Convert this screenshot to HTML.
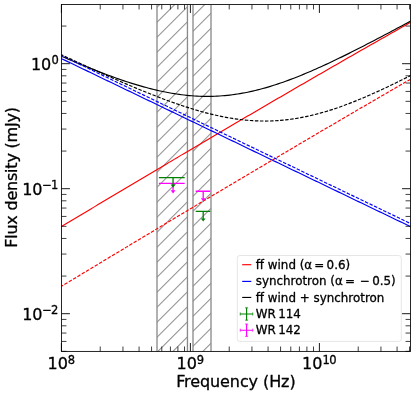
<!DOCTYPE html>
<html><head><meta charset="utf-8"><title>Flux density vs Frequency</title>
<style>html,body{margin:0;padding:0;background:#fff}svg{display:block}</style></head>
<body>
<svg width="415" height="395" viewBox="0 0 415 395" font-family="'DejaVu Sans', 'Liberation Sans', sans-serif" style="font-variant-ligatures:none;font-feature-settings:'liga' 0,'clig' 0">
<rect width="415" height="395" fill="#fff"/>
<style>text{stroke:#000;stroke-width:0.3px;stroke-linejoin:round}</style>
<defs><clipPath id="ax"><rect x="61.55" y="4.55" width="348.9" height="346.84999999999997"/></clipPath>
<clipPath id="b0"><rect x="157.0" y="4.55" width="30.44999999999999" height="346.84999999999997"/></clipPath>
<clipPath id="b1"><rect x="193.0" y="4.55" width="18.0" height="346.84999999999997"/></clipPath>
</defs>
<g clip-path="url(#b0)" stroke="#949494" stroke-width="1.1" fill="none">
<path d="M155.00 -20.70L189.45 -55.15M155.00 -5.70L189.45 -40.15M155.00 9.30L189.45 -25.15M155.00 24.30L189.45 -10.15M155.00 39.30L189.45 4.85M155.00 54.30L189.45 19.85M155.00 69.30L189.45 34.85M155.00 84.30L189.45 49.85M155.00 99.30L189.45 64.85M155.00 114.30L189.45 79.85M155.00 129.30L189.45 94.85M155.00 144.30L189.45 109.85M155.00 159.30L189.45 124.85M155.00 174.30L189.45 139.85M155.00 189.30L189.45 154.85M155.00 204.30L189.45 169.85M155.00 219.30L189.45 184.85M155.00 234.30L189.45 199.85M155.00 249.30L189.45 214.85M155.00 264.30L189.45 229.85M155.00 279.30L189.45 244.85M155.00 294.30L189.45 259.85M155.00 309.30L189.45 274.85M155.00 324.30L189.45 289.85M155.00 339.30L189.45 304.85M155.00 354.30L189.45 319.85M155.00 369.30L189.45 334.85M155.00 384.30L189.45 349.85M155.00 399.30L189.45 364.85"/></g>
<g clip-path="url(#b1)" stroke="#949494" stroke-width="1.1" fill="none">
<path d="M191.00 -11.70L213.00 -33.70M191.00 3.30L213.00 -18.70M191.00 18.30L213.00 -3.70M191.00 33.30L213.00 11.30M191.00 48.30L213.00 26.30M191.00 63.30L213.00 41.30M191.00 78.30L213.00 56.30M191.00 93.30L213.00 71.30M191.00 108.30L213.00 86.30M191.00 123.30L213.00 101.30M191.00 138.30L213.00 116.30M191.00 153.30L213.00 131.30M191.00 168.30L213.00 146.30M191.00 183.30L213.00 161.30M191.00 198.30L213.00 176.30M191.00 213.30L213.00 191.30M191.00 228.30L213.00 206.30M191.00 243.30L213.00 221.30M191.00 258.30L213.00 236.30M191.00 273.30L213.00 251.30M191.00 288.30L213.00 266.30M191.00 303.30L213.00 281.30M191.00 318.30L213.00 296.30M191.00 333.30L213.00 311.30M191.00 348.30L213.00 326.30M191.00 363.30L213.00 341.30M191.00 378.30L213.00 356.30M191.00 393.30L213.00 371.30"/></g>
<g clip-path="url(#ax)" fill="none">
<path d="M157.0 4.55V351.4M187.45 4.55V351.4" stroke="#8a8a8a" stroke-width="1.33"/>
<path d="M193.0 4.55V351.4M211.0 4.55V351.4" stroke="#8a8a8a" stroke-width="1.33"/>
</g>
<g clip-path="url(#ax)">
<polyline points="60.11,227.36 62.64,225.84 65.18,224.32 67.71,222.80 70.24,221.28 72.78,219.76 75.31,218.24 77.85,216.73 80.38,215.21 82.91,213.69 85.45,212.18 87.98,210.66 90.51,209.15 93.05,207.63 95.58,206.12 98.11,204.60 100.65,203.09 103.18,201.58 105.71,200.06 108.25,198.55 110.78,197.04 113.32,195.53 115.85,194.01 118.38,192.50 120.92,190.99 123.45,189.48 125.98,187.97 128.52,186.46 131.05,184.96 133.58,183.45 136.12,181.94 138.65,180.43 141.19,178.93 143.72,177.42 146.25,175.91 148.79,174.41 151.32,172.90 153.85,171.40 156.39,169.90 158.92,168.39 161.45,166.89 163.99,165.39 166.52,163.89 169.05,162.38 171.59,160.88 174.12,159.38 176.66,157.88 179.19,156.38 181.72,154.88 184.26,153.39 186.79,151.89 189.32,150.39 191.86,148.89 194.39,147.40 196.92,145.90 199.46,144.41 201.99,142.91 204.53,141.42 207.06,139.93 209.59,138.43 212.13,136.94 214.66,135.45 217.19,133.96 219.73,132.47 222.26,130.98 224.79,129.49 227.33,128.00 229.86,126.51 232.39,125.02 234.93,123.54 237.46,122.05 240.00,120.57 242.53,119.08 245.06,117.60 247.60,116.11 250.13,114.63 252.66,113.15 255.20,111.67 257.73,110.19 260.26,108.70 262.80,107.22 265.33,105.75 267.86,104.27 270.40,102.79 272.93,101.31 275.47,99.84 278.00,98.36 280.53,96.89 283.07,95.41 285.60,93.94 288.13,92.47 290.67,90.99 293.20,89.52 295.73,88.05 298.27,86.58 300.80,85.12 303.34,83.65 305.87,82.18 308.40,80.71 310.94,79.25 313.47,77.78 316.00,76.32 318.54,74.86 321.07,73.39 323.60,71.93 326.14,70.47 328.67,69.01 331.20,67.55 333.74,66.10 336.27,64.64 338.81,63.18 341.34,61.73 343.87,60.27 346.41,58.82 348.94,57.37 351.47,55.92 354.01,54.46 356.54,53.01 359.07,51.57 361.61,50.12 364.14,48.67 366.68,47.23 369.21,45.78 371.74,44.34 374.28,42.89 376.81,41.45 379.34,40.01 381.88,38.57 384.41,37.13 386.94,35.70 389.48,34.26 392.01,32.83 394.54,31.39 397.08,29.96 399.61,28.53 402.15,27.10 404.68,25.67 407.21,24.24 409.75,22.81 412.28,21.39" fill="none" stroke="#ff0000" stroke-width="1.15" stroke-linejoin="round"/>
<polyline points="60.11,57.95 62.64,59.17 65.18,60.39 67.71,61.61 70.24,62.82 72.78,64.04 75.31,65.26 77.85,66.48 80.38,67.70 82.91,68.92 85.45,70.14 87.98,71.36 90.51,72.58 93.05,73.80 95.58,75.02 98.11,76.24 100.65,77.46 103.18,78.68 105.71,79.90 108.25,81.12 110.78,82.34 113.32,83.56 115.85,84.78 118.38,86.00 120.92,87.22 123.45,88.44 125.98,89.66 128.52,90.88 131.05,92.10 133.58,93.32 136.12,94.54 138.65,95.76 141.19,96.98 143.72,98.20 146.25,99.41 148.79,100.63 151.32,101.85 153.85,103.07 156.39,104.29 158.92,105.51 161.45,106.73 163.99,107.95 166.52,109.17 169.05,110.39 171.59,111.61 174.12,112.83 176.66,114.05 179.19,115.27 181.72,116.49 184.26,117.71 186.79,118.93 189.32,120.15 191.86,121.37 194.39,122.59 196.92,123.81 199.46,125.03 201.99,126.25 204.53,127.47 207.06,128.69 209.59,129.91 212.13,131.13 214.66,132.35 217.19,133.57 219.73,134.79 222.26,136.00 224.79,137.22 227.33,138.44 229.86,139.66 232.39,140.88 234.93,142.10 237.46,143.32 240.00,144.54 242.53,145.76 245.06,146.98 247.60,148.20 250.13,149.42 252.66,150.64 255.20,151.86 257.73,153.08 260.26,154.30 262.80,155.52 265.33,156.74 267.86,157.96 270.40,159.18 272.93,160.40 275.47,161.62 278.00,162.84 280.53,164.06 283.07,165.28 285.60,166.50 288.13,167.72 290.67,168.94 293.20,170.16 295.73,171.37 298.27,172.59 300.80,173.81 303.34,175.03 305.87,176.25 308.40,177.47 310.94,178.69 313.47,179.91 316.00,181.13 318.54,182.35 321.07,183.57 323.60,184.79 326.14,186.01 328.67,187.23 331.20,188.45 333.74,189.67 336.27,190.89 338.81,192.11 341.34,193.33 343.87,194.55 346.41,195.77 348.94,196.99 351.47,198.21 354.01,199.43 356.54,200.65 359.07,201.87 361.61,203.09 364.14,204.31 366.68,205.53 369.21,206.75 371.74,207.96 374.28,209.18 376.81,210.40 379.34,211.62 381.88,212.84 384.41,214.06 386.94,215.28 389.48,216.50 392.01,217.72 394.54,218.94 397.08,220.16 399.61,221.38 402.15,222.60 404.68,223.82 407.21,225.04 409.75,226.26 412.28,227.48" fill="none" stroke="#0000ff" stroke-width="1.15" stroke-linejoin="round"/>
<polyline points="60.11,55.60 62.64,56.70 65.18,57.80 67.71,58.89 70.24,59.97 72.78,61.05 75.31,62.12 77.85,63.18 80.38,64.23 82.91,65.28 85.45,66.31 87.98,67.34 90.51,68.36 93.05,69.37 95.58,70.37 98.11,71.36 100.65,72.34 103.18,73.31 105.71,74.27 108.25,75.21 110.78,76.14 113.32,77.06 115.85,77.97 118.38,78.86 120.92,79.73 123.45,80.59 125.98,81.44 128.52,82.27 131.05,83.08 133.58,83.87 136.12,84.64 138.65,85.40 141.19,86.14 143.72,86.85 146.25,87.55 148.79,88.22 151.32,88.87 153.85,89.50 156.39,90.11 158.92,90.69 161.45,91.24 163.99,91.78 166.52,92.28 169.05,92.76 171.59,93.21 174.12,93.63 176.66,94.03 179.19,94.40 181.72,94.73 184.26,95.04 186.79,95.32 189.32,95.56 191.86,95.78 194.39,95.96 196.92,96.11 199.46,96.23 201.99,96.31 204.53,96.37 207.06,96.39 209.59,96.37 212.13,96.33 214.66,96.25 217.19,96.13 219.73,95.99 222.26,95.80 224.79,95.59 227.33,95.34 229.86,95.06 232.39,94.75 234.93,94.40 237.46,94.02 240.00,93.61 242.53,93.17 245.06,92.70 247.60,92.19 250.13,91.66 252.66,91.09 255.20,90.50 257.73,89.87 260.26,89.22 262.80,88.54 265.33,87.83 267.86,87.10 270.40,86.34 272.93,85.56 275.47,84.75 278.00,83.91 280.53,83.06 283.07,82.18 285.60,81.27 288.13,80.35 290.67,79.41 293.20,78.44 295.73,77.46 298.27,76.46 300.80,75.44 303.34,74.40 305.87,73.34 308.40,72.27 310.94,71.19 313.47,70.08 316.00,68.97 318.54,67.84 321.07,66.69 323.60,65.54 326.14,64.37 328.67,63.19 331.20,61.99 333.74,60.79 336.27,59.58 338.81,58.35 341.34,57.12 343.87,55.88 346.41,54.63 348.94,53.37 351.47,52.10 354.01,50.83 356.54,49.55 359.07,48.26 361.61,46.97 364.14,45.67 366.68,44.36 369.21,43.05 371.74,41.74 374.28,40.42 376.81,39.09 379.34,37.76 381.88,36.43 384.41,35.09 386.94,33.75 389.48,32.40 392.01,31.05 394.54,29.70 397.08,28.35 399.61,26.99 402.15,25.64 404.68,24.28 407.21,22.91 409.75,21.55 412.28,20.18" fill="none" stroke="#000000" stroke-width="1.15" stroke-linejoin="round"/>
<polyline points="60.11,287.11 62.64,285.58 65.18,284.04 67.71,282.51 70.24,280.98 72.78,279.45 75.31,277.92 77.85,276.39 80.38,274.86 82.91,273.33 85.45,271.80 87.98,270.27 90.51,268.75 93.05,267.22 95.58,265.69 98.11,264.16 100.65,262.64 103.18,261.11 105.71,259.58 108.25,258.06 110.78,256.53 113.32,255.01 115.85,253.48 118.38,251.96 120.92,250.43 123.45,248.91 125.98,247.38 128.52,245.86 131.05,244.34 133.58,242.81 136.12,241.29 138.65,239.77 141.19,238.25 143.72,236.73 146.25,235.21 148.79,233.69 151.32,232.17 153.85,230.65 156.39,229.13 158.92,227.61 161.45,226.09 163.99,224.57 166.52,223.05 169.05,221.54 171.59,220.02 174.12,218.50 176.66,216.99 179.19,215.47 181.72,213.96 184.26,212.44 186.79,210.93 189.32,209.41 191.86,207.90 194.39,206.39 196.92,204.87 199.46,203.36 201.99,201.85 204.53,200.34 207.06,198.83 209.59,197.32 212.13,195.81 214.66,194.30 217.19,192.79 219.73,191.28 222.26,189.77 224.79,188.26 227.33,186.75 229.86,185.25 232.39,183.74 234.93,182.23 237.46,180.73 240.00,179.22 242.53,177.72 245.06,176.21 247.60,174.71 250.13,173.21 252.66,171.70 255.20,170.20 257.73,168.70 260.26,167.20 262.80,165.70 265.33,164.20 267.86,162.70 270.40,161.20 272.93,159.70 275.47,158.20 278.00,156.70 280.53,155.21 283.07,153.71 285.60,152.22 288.13,150.72 290.67,149.22 293.20,147.73 295.73,146.24 298.27,144.74 300.80,143.25 303.34,141.76 305.87,140.27 308.40,138.78 310.94,137.29 313.47,135.80 316.00,134.31 318.54,132.82 321.07,131.33 323.60,129.84 326.14,128.36 328.67,126.87 331.20,125.39 333.74,123.90 336.27,122.42 338.81,120.93 341.34,119.45 343.87,117.97 346.41,116.49 348.94,115.01 351.47,113.53 354.01,112.05 356.54,110.57 359.07,109.09 361.61,107.61 364.14,106.14 366.68,104.66 369.21,103.18 371.74,101.71 374.28,100.24 376.81,98.76 379.34,97.29 381.88,95.82 384.41,94.35 386.94,92.88 389.48,91.41 392.01,89.94 394.54,88.47 397.08,87.01 399.61,85.54 402.15,84.07 404.68,82.61 407.21,81.15 409.75,79.68 412.28,78.22" fill="none" stroke="#ff0000" stroke-width="1.15" stroke-dasharray="3.5 1.55" stroke-dashoffset="0" stroke-linejoin="round"/>
<polyline points="60.11,54.87 62.64,56.09 65.18,57.31 67.71,58.53 70.24,59.75 72.78,60.97 75.31,62.19 77.85,63.41 80.38,64.63 82.91,65.85 85.45,67.07 87.98,68.29 90.51,69.51 93.05,70.73 95.58,71.95 98.11,73.17 100.65,74.39 103.18,75.61 105.71,76.83 108.25,78.05 110.78,79.27 113.32,80.49 115.85,81.71 118.38,82.93 120.92,84.15 123.45,85.37 125.98,86.59 128.52,87.81 131.05,89.03 133.58,90.24 136.12,91.46 138.65,92.68 141.19,93.90 143.72,95.12 146.25,96.34 148.79,97.56 151.32,98.78 153.85,100.00 156.39,101.22 158.92,102.44 161.45,103.66 163.99,104.88 166.52,106.10 169.05,107.32 171.59,108.54 174.12,109.76 176.66,110.98 179.19,112.20 181.72,113.42 184.26,114.64 186.79,115.86 189.32,117.08 191.86,118.30 194.39,119.52 196.92,120.74 199.46,121.96 201.99,123.18 204.53,124.40 207.06,125.62 209.59,126.83 212.13,128.05 214.66,129.27 217.19,130.49 219.73,131.71 222.26,132.93 224.79,134.15 227.33,135.37 229.86,136.59 232.39,137.81 234.93,139.03 237.46,140.25 240.00,141.47 242.53,142.69 245.06,143.91 247.60,145.13 250.13,146.35 252.66,147.57 255.20,148.79 257.73,150.01 260.26,151.23 262.80,152.45 265.33,153.67 267.86,154.89 270.40,156.11 272.93,157.33 275.47,158.55 278.00,159.77 280.53,160.99 283.07,162.20 285.60,163.42 288.13,164.64 290.67,165.86 293.20,167.08 295.73,168.30 298.27,169.52 300.80,170.74 303.34,171.96 305.87,173.18 308.40,174.40 310.94,175.62 313.47,176.84 316.00,178.06 318.54,179.28 321.07,180.50 323.60,181.72 326.14,182.94 328.67,184.16 331.20,185.38 333.74,186.60 336.27,187.82 338.81,189.04 341.34,190.26 343.87,191.48 346.41,192.70 348.94,193.92 351.47,195.14 354.01,196.36 356.54,197.58 359.07,198.79 361.61,200.01 364.14,201.23 366.68,202.45 369.21,203.67 371.74,204.89 374.28,206.11 376.81,207.33 379.34,208.55 381.88,209.77 384.41,210.99 386.94,212.21 389.48,213.43 392.01,214.65 394.54,215.87 397.08,217.09 399.61,218.31 402.15,219.53 404.68,220.75 407.21,221.97 409.75,223.19 412.28,224.41" fill="none" stroke="#0000ff" stroke-width="1.15" stroke-dasharray="3.5 1.55" stroke-dashoffset="0" stroke-linejoin="round"/>
<polyline points="60.11,54.13 62.64,55.31 65.18,56.49 67.71,57.66 70.24,58.84 72.78,60.01 75.31,61.18 77.85,62.35 80.38,63.51 82.91,64.68 85.45,65.84 87.98,66.99 90.51,68.15 93.05,69.29 95.58,70.44 98.11,71.58 100.65,72.72 103.18,73.86 105.71,74.99 108.25,76.11 110.78,77.23 113.32,78.35 115.85,79.46 118.38,80.57 120.92,81.67 123.45,82.76 125.98,83.85 128.52,84.93 131.05,86.00 133.58,87.07 136.12,88.13 138.65,89.19 141.19,90.23 143.72,91.27 146.25,92.29 148.79,93.31 151.32,94.32 153.85,95.32 156.39,96.31 158.92,97.28 161.45,98.25 163.99,99.20 166.52,100.14 169.05,101.07 171.59,101.99 174.12,102.89 176.66,103.78 179.19,104.65 181.72,105.51 184.26,106.35 186.79,107.17 189.32,107.98 191.86,108.77 194.39,109.54 196.92,110.29 199.46,111.02 201.99,111.73 204.53,112.42 207.06,113.09 209.59,113.73 212.13,114.35 214.66,114.95 217.19,115.53 219.73,116.08 222.26,116.60 224.79,117.10 227.33,117.57 229.86,118.01 232.39,118.43 234.93,118.81 237.46,119.17 240.00,119.50 242.53,119.80 245.06,120.07 247.60,120.30 250.13,120.51 252.66,120.68 255.20,120.82 257.73,120.92 260.26,121.00 262.80,121.04 265.33,121.05 267.86,121.02 270.40,120.96 272.93,120.87 275.47,120.75 278.00,120.58 280.53,120.39 283.07,120.16 285.60,119.90 288.13,119.61 290.67,119.28 293.20,118.92 295.73,118.53 298.27,118.10 300.80,117.65 303.34,117.16 305.87,116.64 308.40,116.09 310.94,115.51 313.47,114.90 316.00,114.26 318.54,113.60 321.07,112.90 323.60,112.18 326.14,111.43 328.67,110.66 331.20,109.86 333.74,109.03 336.27,108.18 338.81,107.31 341.34,106.42 343.87,105.50 346.41,104.56 348.94,103.60 351.47,102.62 354.01,101.63 356.54,100.61 359.07,99.57 361.61,98.52 364.14,97.45 366.68,96.37 369.21,95.26 371.74,94.15 374.28,93.02 376.81,91.87 379.34,90.71 381.88,89.54 384.41,88.36 386.94,87.16 389.48,85.96 392.01,84.74 394.54,83.51 397.08,82.27 399.61,81.03 402.15,79.77 404.68,78.51 407.21,77.23 409.75,75.95 412.28,74.67" fill="none" stroke="#000000" stroke-width="1.15" stroke-dasharray="3.5 1.55" stroke-dashoffset="0" stroke-linejoin="round"/>
<path d="M158.9 183.3H184.7M173.05 183.3V190.8" stroke="#ff00ff" stroke-width="1.3" fill="none"/>
<path d="M170.65 190.3H175.45000000000002L173.05 193.4Z" fill="#ff00ff"/>
<path d="M195.7 191.25H210.3M203.2 191.25V198.75" stroke="#ff00ff" stroke-width="1.3" fill="none"/>
<path d="M200.79999999999998 198.25H205.6L203.2 201.35Z" fill="#ff00ff"/>
<path d="M158.9 177.6H184.7M173.05 177.6V185.1" stroke="#008000" stroke-width="1.3" fill="none"/>
<path d="M170.65 184.6H175.45000000000002L173.05 187.7Z" fill="#008000"/>
<path d="M195.7 211.4H210.3M203.2 211.4V218.9" stroke="#008000" stroke-width="1.3" fill="none"/>
<path d="M200.79999999999998 218.4H205.6L203.2 221.5Z" fill="#008000"/>
</g>
<path d="M61.40 351.4v-8.4M61.40 4.55v8.4M190.40 351.4v-8.4M190.40 4.55v8.4M319.40 351.4v-8.4M319.40 4.55v8.4M61.55 313.70h8.4M410.45 313.70h-8.4M61.55 188.70h8.4M410.45 188.70h-8.4M61.55 63.70h8.4M410.45 63.70h-8.4" stroke="#000" stroke-width="0.9" fill="none"/>
<path d="M100.23 351.4v-4.9M100.23 4.55v4.9M122.95 351.4v-4.9M122.95 4.55v4.9M139.07 351.4v-4.9M139.07 4.55v4.9M151.57 351.4v-4.9M151.57 4.55v4.9M161.78 351.4v-4.9M161.78 4.55v4.9M170.42 351.4v-4.9M170.42 4.55v4.9M177.90 351.4v-4.9M177.90 4.55v4.9M184.50 351.4v-4.9M184.50 4.55v4.9M229.23 351.4v-4.9M229.23 4.55v4.9M251.95 351.4v-4.9M251.95 4.55v4.9M268.07 351.4v-4.9M268.07 4.55v4.9M280.57 351.4v-4.9M280.57 4.55v4.9M290.78 351.4v-4.9M290.78 4.55v4.9M299.42 351.4v-4.9M299.42 4.55v4.9M306.90 351.4v-4.9M306.90 4.55v4.9M313.50 351.4v-4.9M313.50 4.55v4.9M358.23 351.4v-4.9M358.23 4.55v4.9M380.95 351.4v-4.9M380.95 4.55v4.9M397.07 351.4v-4.9M397.07 4.55v4.9M409.57 351.4v-4.9M409.57 4.55v4.9M61.55 351.33h4.9M410.45 351.33h-4.9M61.55 341.43h4.9M410.45 341.43h-4.9M61.55 333.06h4.9M410.45 333.06h-4.9M61.55 325.81h4.9M410.45 325.81h-4.9M61.55 319.42h4.9M410.45 319.42h-4.9M61.55 276.07h4.9M410.45 276.07h-4.9M61.55 254.06h4.9M410.45 254.06h-4.9M61.55 238.44h4.9M410.45 238.44h-4.9M61.55 226.33h4.9M410.45 226.33h-4.9M61.55 216.43h4.9M410.45 216.43h-4.9M61.55 208.06h4.9M410.45 208.06h-4.9M61.55 200.81h4.9M410.45 200.81h-4.9M61.55 194.42h4.9M410.45 194.42h-4.9M61.55 151.07h4.9M410.45 151.07h-4.9M61.55 129.06h4.9M410.45 129.06h-4.9M61.55 113.44h4.9M410.45 113.44h-4.9M61.55 101.33h4.9M410.45 101.33h-4.9M61.55 91.43h4.9M410.45 91.43h-4.9M61.55 83.06h4.9M410.45 83.06h-4.9M61.55 75.81h4.9M410.45 75.81h-4.9M61.55 69.42h4.9M410.45 69.42h-4.9M61.55 26.07h4.9M410.45 26.07h-4.9" stroke="#000" stroke-width="0.75" fill="none"/>
<rect x="61.55" y="4.55" width="348.9" height="346.84999999999997" fill="none" stroke="#000" stroke-width="0.85"/>
<text x="47.46" y="369.1" font-size="16">10<tspan dy="-5.4" font-size="11.5" letter-spacing="0">8</tspan></text>
<text x="176.46" y="369.1" font-size="16">10<tspan dy="-5.4" font-size="11.5" letter-spacing="0">9</tspan></text>
<text x="302.03" y="369.1" font-size="16">10<tspan dy="-5.4" font-size="11.5" letter-spacing="-0.45">10</tspan></text>
<text x="30.9" y="69.50" font-size="16">10<tspan x="51.40" dy="-5.4" font-size="11.5">0</tspan></text>
<text x="22.14" y="194.50" font-size="16">10<tspan x="42.34" dy="-5.4" font-size="11.5">−</tspan><tspan x="51.09" font-size="11.5">1</tspan></text>
<text x="22.14" y="319.50" font-size="16">10<tspan x="42.34" dy="-5.4" font-size="11.5">−</tspan><tspan x="51.09" font-size="11.5">2</tspan></text>
<text x="235.9" y="386.9" font-size="16" text-anchor="middle" textLength="119.5" lengthAdjust="spacing">Frequency (Hz)</text>
<text transform="translate(16.8 177.4) rotate(-90)" font-size="16" text-anchor="middle" textLength="140.8" lengthAdjust="spacing">Flux density (mJy)</text>
<rect x="237.3" y="255.5" width="164.0" height="85.89999999999998" rx="2.6" fill="#fff" fill-opacity="0.8" stroke="#e6e6e6" stroke-width="1"/>
<path d="M242.2 264.7H251.3" stroke="#ff0000" stroke-width="1.15"/>
<path d="M242.2 281.4H251.3" stroke="#0000ff" stroke-width="1.15"/>
<path d="M242.2 297.45H251.3" stroke="#000000" stroke-width="1.15"/>
<path d="M240.25 314.0H252.75M246.6 307.85V320.15" stroke="#008000" stroke-width="1.15"/>
<path d="M240.25 312.5v3M252.75 312.5v3M245.1 307.85h3M245.1 320.15h3" stroke="#008000" stroke-width="0.8"/>
<path d="M240.25 330.2H252.75M246.6 324.05V336.34999999999997" stroke="#ff00ff" stroke-width="1.15"/>
<path d="M240.25 328.7v3M252.75 328.7v3M245.1 324.05h3M245.1 336.34999999999997h3" stroke="#ff00ff" stroke-width="0.8"/>
<text x="255.7" y="268.80" font-size="11.9">ff wind (α<tspan x="314.3">=</tspan><tspan x="326.6">0.6)</tspan></text>
<text x="255.7" y="285.10" font-size="11.9">synchrotron (α<tspan x="345.1">=</tspan><tspan x="359.9">−</tspan><tspan x="372.2">0.5)</tspan></text>
<text x="255.7" y="302.00" font-size="11.9">ff wind + synchrotron</text>
<text x="255.8" y="318.30" font-size="11.9">WR<tspan dx="2.3">114</tspan></text>
<text x="255.8" y="333.90" font-size="11.9">WR<tspan dx="2.3">142</tspan></text>
</svg>
</body></html>
